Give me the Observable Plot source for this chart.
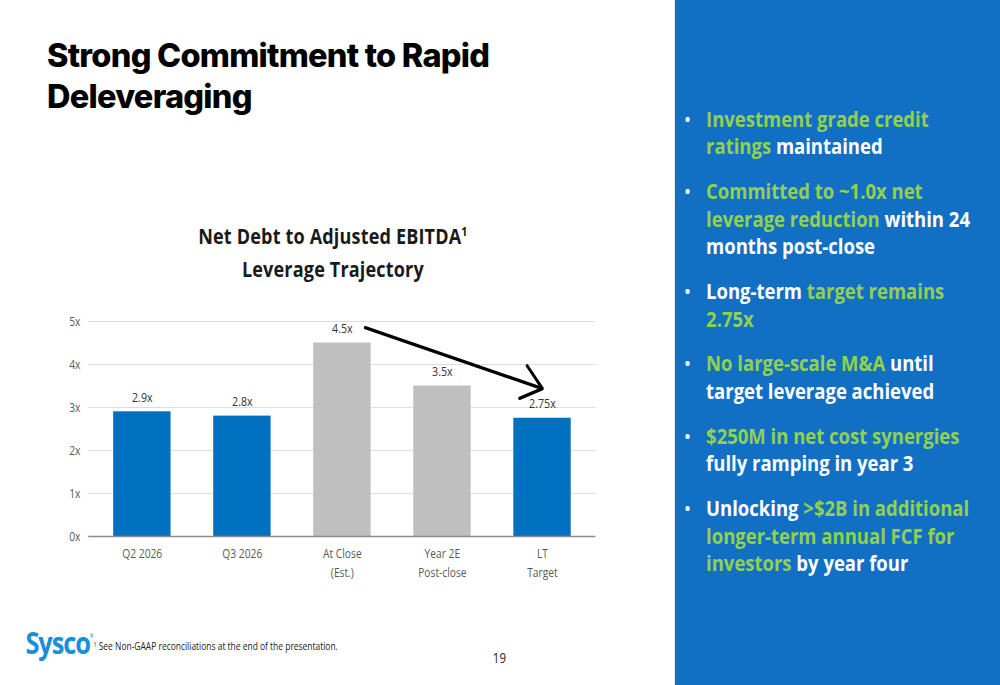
<!DOCTYPE html>
<html>
<head>
<meta charset="utf-8">
<script src="https://cdn.jsdelivr.net/npm/d3@7"></script>
<script src="https://cdn.jsdelivr.net/npm/@observablehq/plot@0.6"></script>
<style>
  html, body { margin: 0; padding: 0; width: 1000px; height: 685px; overflow: hidden; background: #fff; }
  /* slide is laid out at 16:9 width, then fitted to the 1000px page */
  #stage { position: absolute; left: 0; top: 0; width: 1219.5px; height: 685px; transform: scaleX(0.82); transform-origin: 0 0; }
  #title { position: absolute; left: 47px; top: 35px; font-family: Inter, sans-serif; font-weight: 800; font-size: 32.5px; line-height: 41px; color: #000; letter-spacing: -0.75px; white-space: nowrap; }
  #chart-title { position: absolute; left: 106px; width: 600px; top: 221px; text-align: center; font-family: "Open Sans", sans-serif; font-weight: 700; font-size: 22px; line-height: 29px; letter-spacing: 0.2px; color: #1a1a1a; }
  #chart-title sup { font-size: 13px; vertical-align: 0; position: relative; top: -8px; }
  #chart { position: absolute; left: 48.8px; top: 300px; }
  #panel { position: absolute; left: 823px; top: 0; width: 397px; height: 685px; background: #1170c4; }
  #panel ul { list-style: none; margin: 0; padding: 0; position: absolute; left: 0; top: 105.8px; transform: scaleX(1.1); transform-origin: 0 0; font-family: "Open Sans", sans-serif; font-weight: 700; font-size: 20.5px; line-height: 27.5px; color: #fff; }
  #panel li { position: relative; padding-left: 34.6px; margin-bottom: 17.4px; white-space: nowrap; }
  #panel li::before { content: "•"; position: absolute; left: 11px; top: 0; font-size: 16px; color: #fff; }
  #panel .g { color: #92d050; }
  #logo { position: absolute; left: 31px; top: 621px; font-family: "Open Sans", sans-serif; font-weight: 700; font-size: 31px; letter-spacing: -1.3px; color: #1a8fd6; }
  #logo sup { font-size: 5px; letter-spacing: 0; position: relative; top: -16px; vertical-align: 0; color: #1a8fd6; }
  #footnote { position: absolute; left: 114px; top: 639px; font-family: "Open Sans", sans-serif; font-size: 10.3px; color: #222; }
  #footnote sup { font-size: 6.5px; vertical-align: 0; position: relative; top: -3px; }
  #page { position: absolute; left: 601px; top: 648px; font-family: "Open Sans", sans-serif; font-size: 14px; color: #222; }
</style>
</head>
<body>
<div id="stage">
  <div id="chart-title">Net Debt to Adjusted EBITDA<sup>1</sup><br>Leverage Trajectory</div>
  <div id="chart"></div>
  <div id="panel">
    <ul>
      <li><span class="g">Investment grade credit<br>ratings</span> maintained</li>
      <li><span class="g">Committed to ~1.0x net<br>leverage reduction</span> within 24<br>months post-close</li>
      <li>Long-term <span class="g">target remains<br>2.75x</span></li>
      <li><span class="g">No large-scale M&amp;A</span> until<br>target leverage achieved</li>
      <li><span class="g">$250M in net cost synergies</span><br>fully ramping in year 3</li>
      <li>Unlocking <span class="g">&gt;$2B in additional<br>longer-term annual FCF for<br>investors</span> by year four</li>
    </ul>
  </div>
  <div id="logo">Sysco<sup>®</sup></div>
  <div id="footnote"><sup>1</sup> See Non-GAAP reconciliations at the end of the presentation.</div>
  <div id="page">19</div>
</div>
<div id="title">Strong Commitment to Rapid<br>Deleveraging</div>
<script>
// Net debt / adjusted EBITDA by period
const categories = ["Q2 2026", "Q3 2026", "At Close", "Year 2E", "LT"];
const categoryLabels = ["Q2 2026", "Q3 2026", "At Close\n(Est.)", "Year 2E\nPost-close", "LT\nTarget"];
const leverage = [2.9, 2.8, 4.5, 3.5, 2.75];
const leverageLabels = ["2.9x", "2.8x", "4.5x", "3.5x", "2.75x"];
const periodKind = ["reported", "reported", "projected", "projected", "target"];
const yTicks = [0, 1, 2, 3, 4, 5];

// Downward trend arrow from the at-close peak toward the long-term target
const trendStart = ["At Close", 5.04];
const trendEnd = ["LT", 3.44];

const rows = categories.map((c, i) => ({
  category: c,
  value: leverage[i],
  label: leverageLabels[i],
  kind: periodKind[i]
}));

const kindColor = { reported: "#0070c0", projected: "#bfbfbf", target: "#0070c0" };

const chart = Plot.plot({
  width: 695,
  height: 290,
  marginLeft: 58.5,
  marginRight: 18,
  marginTop: 21,
  marginBottom: 54,
  style: { fontFamily: "'Open Sans', sans-serif", fontSize: "12.5px", color: "#595959", background: "transparent", overflow: "visible" },
  x: { domain: categories, paddingInner: 0.43, paddingOuter: 0.245, axis: null },
  y: { domain: [0, 5], axis: null },
  marks: [
    Plot.gridY(yTicks, { stroke: "#d9d9d9", strokeOpacity: 1, strokeWidth: 1 }),
    Plot.barY(rows, { x: "category", y: "value", fill: d => kindColor[d.kind] }),
    Plot.ruleY([0], { stroke: "#8c8c8c", strokeWidth: 1.3 }),
    Plot.axisY(yTicks, { tickSize: 0, tickPadding: 10, tickFormat: d => `${d}x`, fill: "#595959", label: null }),
    Plot.axisX(categories, { tickSize: 0, tickPadding: 8, lineHeight: 1.5, tickFormat: d => categoryLabels[categories.indexOf(d)], fill: "#595959", label: null }),
    Plot.text(rows, { x: "category", y: "value", text: "label", dy: -14, fill: "#333", fontSize: 13 }),
    Plot.arrow([{ x1: trendStart[0], y1: trendStart[1], x2: trendEnd[0], y2: trendEnd[1] }], {
      x1: "x1", y1: "y1", x2: "x2", y2: "y2",
      stroke: "#000", strokeWidth: 3.4, headLength: 13, headAngle: 70, insetStart: 29, bend: 0
    })
  ]
});
document.getElementById("chart").appendChild(chart);
</script>
</body>
</html>
